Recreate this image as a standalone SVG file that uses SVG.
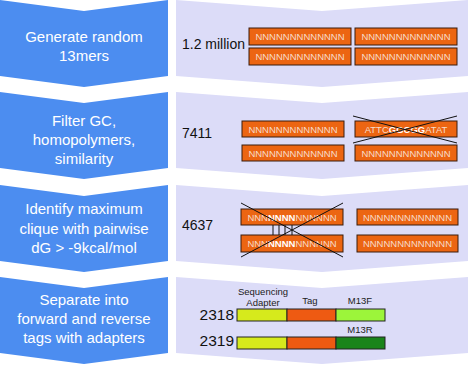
<svg xmlns="http://www.w3.org/2000/svg" width="474" height="365" viewBox="0 0 474 365">
<style>
.step{fill:#4c8df0}
.panel{fill:#dcdcf8}
.st{font-family:"Liberation Sans",Arial,sans-serif;font-size:15px;fill:#ffffff;text-anchor:middle}
.cnt{font-family:"Liberation Sans",Arial,sans-serif;font-size:14px;fill:#111111}
.big{font-family:"Liberation Sans",Arial,sans-serif;font-size:15.5px;fill:#111111;text-anchor:end}
.box{fill:#ec6512;stroke:#3a1c0c;stroke-width:1}
.bt{font-family:"Liberation Sans",Arial,sans-serif;font-size:9.5px;fill:#f6dccb;text-anchor:middle}
.hl{fill:#ffffff;font-weight:bold}
.x{stroke:#111111;stroke-width:1;fill:none}
.lbl{font-family:"Liberation Sans",Arial,sans-serif;font-size:9.5px;fill:#222222;text-anchor:middle}
.seg{stroke:#222222;stroke-width:1}
</style>
<rect width="474" height="365" fill="#ffffff"/>

<g id="step1">
<path class="step" d="M0,0 L84,11 L168,0 L168,76 L84,87 L0,76 Z"/>
<text class="st" x="84" y="42">Generate random</text>
<text class="st" x="84" y="61">13mers</text>
</g>
<g id="step2">
<path class="step" d="M0,92 L84,103 L168,92 L168,168 L84,179 L0,168 Z"/>
<text class="st" x="84" y="126">Filter GC,</text>
<text class="st" x="84" y="145">homopolymers,</text>
<text class="st" x="84" y="164">similarity</text>
</g>
<g id="step3">
<path class="step" d="M0,185 L84,196 L168,185 L168,261 L84,272 L0,261 Z"/>
<text class="st" x="84" y="214">Identify maximum</text>
<text class="st" x="84" y="233.5">clique with pairwise</text>
<text class="st" x="84" y="253">dG &gt; -9kcal/mol</text>
</g>
<g id="step4">
<path class="step" d="M0,277 L84,288 L168,277 L168,353 L84,364 L0,353 Z"/>
<text class="st" x="84" y="305">Separate into</text>
<text class="st" x="84" y="324">forward and reverse</text>
<text class="st" x="84" y="343">tags with adapters</text>
</g>

<g id="panel1">
<path class="panel" d="M176,0 L322,11 L468,0 L468,76 L322,87 L176,76 Z"/>
<text class="cnt" x="182" y="49">1.2 million</text>
<rect class="box" x="249" y="28" width="102" height="17"/>
<rect class="box" x="355" y="28" width="102" height="17"/>
<rect class="box" x="249" y="48" width="102" height="17"/>
<rect class="box" x="355" y="48" width="102" height="17"/>
<text class="bt" x="300" y="40">NNNNNNNNNNNNN</text>
<text class="bt" x="406" y="40">NNNNNNNNNNNNN</text>
<text class="bt" x="300" y="60">NNNNNNNNNNNNN</text>
<text class="bt" x="406" y="60">NNNNNNNNNNNNN</text>
</g>

<g id="panel2">
<path class="panel" d="M176,92 L322,103 L468,92 L468,168 L322,179 L176,168 Z"/>
<text class="cnt" x="182" y="138">7411</text>
<rect class="box" x="242" y="121" width="102" height="16"/>
<rect class="box" x="355" y="121" width="102" height="16"/>
<rect class="box" x="242" y="145" width="102" height="16"/>
<rect class="box" x="355" y="145" width="102" height="16"/>
<text class="bt" x="293" y="132.5">NNNNNNNNNNNNN</text>
<text class="bt" x="406" y="132.5">ATTC<tspan class="hl">GGCGG</tspan>ATAT</text>
<text class="bt" x="293" y="156.5">NNNNNNNNNNNNN</text>
<text class="bt" x="406" y="156.5">NNNNNNNNNNNNN</text>
<path class="x" d="M353,116 L457,143 M457,116 L353,143"/>
</g>

<g id="panel3">
<path class="panel" d="M176,185 L322,196 L468,185 L468,261 L322,272 L176,261 Z"/>
<text class="cnt" x="182" y="230">4637</text>
<rect class="box" x="241" y="209" width="102" height="16"/>
<rect class="box" x="357" y="209" width="101" height="16"/>
<rect class="box" x="241" y="235" width="102" height="17"/>
<rect class="box" x="357" y="235" width="101" height="17"/>
<text class="bt" x="292" y="220.5">NNN<tspan class="hl">NNNN</tspan>NNNNNN</text>
<text class="bt" x="407.5" y="220.5">NNNNNNNNNNNNN</text>
<text class="bt" x="292" y="247">NNN<tspan class="hl">NNNN</tspan>NNNNNN</text>
<text class="bt" x="407.5" y="247">NNNNNNNNNNNNN</text>
<path class="x" d="M273,225 L273,235 M279,225 L279,235 M285,225 L285,235 M292,225 L292,235"/>
<path class="x" d="M241,203 L343,257 M343,203 L241,257"/>
</g>

<g id="panel4">
<path class="panel" d="M176,277 L322,288 L468,277 L468,353 L322,364 L176,353 Z"/>
<text class="lbl" x="263" y="295">Sequencing</text>
<text class="lbl" x="263" y="306">Adapter</text>
<text class="lbl" x="310" y="304">Tag</text>
<text class="lbl" x="360" y="304">M13F</text>
<text class="lbl" x="360" y="333">M13R</text>
<text class="big" x="234" y="320">2318</text>
<text class="big" x="234" y="346">2319</text>
<rect class="seg" x="237" y="309" width="50" height="12" fill="#d6ea1c"/>
<rect class="seg" x="287" y="309" width="49" height="12" fill="#ee5a12"/>
<rect class="seg" x="336" y="309" width="49" height="12" fill="#9cf53a"/>
<rect class="seg" x="237" y="337" width="50" height="12" fill="#d6ea1c"/>
<rect class="seg" x="287" y="337" width="49" height="12" fill="#ee5a12"/>
<rect class="seg" x="336" y="337" width="49" height="12" fill="#1a841a"/>
</g>
</svg>
